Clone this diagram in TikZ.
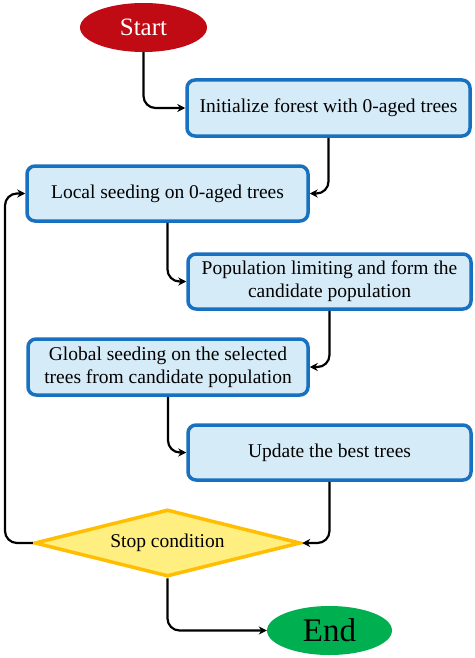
\documentclass[tikz,border=0pt]{standalone}
\usepackage{fontspec}
\setmainfont{Liberation Serif}
\usetikzlibrary{shapes.geometric,arrows.meta}
\definecolor{startred}{RGB}{192,10,20}
\definecolor{endgreen}{RGB}{0,176,80}
\definecolor{boxfill}{RGB}{214,235,248}
\definecolor{boxline}{RGB}{24,112,192}
\definecolor{diafill}{RGB}{255,238,128}
\definecolor{dialine}{RGB}{255,190,0}
\tikzset{
  procbox/.style={draw=boxline, fill=boxfill, line width=3.5pt, rounded corners=8pt,
    inner sep=0pt, align=center, font=\fontsize{19.5}{23}\selectfont},
  decision/.style={diamond, draw=dialine, fill=diafill, line width=3.5pt, inner sep=0pt,
    aspect=3.8, minimum width=266pt, minimum height=67pt, font=\fontsize{19.5}{23}\selectfont},
  terminal/.style={ellipse, inner sep=0pt},
  conn/.style={draw=black, line width=2.2pt, rounded corners=12pt, -{Stealth[length=8pt,width=8pt]}}
}
\begin{document}
\begin{tikzpicture}[x=1pt,y=-1pt]
\useasboundingbox (0,0) rectangle (474,658);
\node[terminal, fill=startred, minimum width=127pt, minimum height=49pt, text=white,
  font=\fontsize{25}{28}\selectfont] (start) at (143.5,27.5) {Start};
\node[procbox, minimum width=283pt, minimum height=56pt] (b1) at (328.5,108) {Initialize forest with 0-aged trees};
\node[procbox, minimum width=281pt, minimum height=55pt] (b2) at (167.5,193.5) {Local seeding on 0-aged trees};
\node[procbox, minimum width=283pt, minimum height=55pt] (b3) at (329.5,281.5) {Population limiting and form the\\candidate population};
\node[procbox, minimum width=280pt, minimum height=56pt] (b4) at (168,367) {Global seeding on the selected\\trees from candidate population};
\node[procbox, minimum width=283pt, minimum height=55pt] (b5) at (329.5,452.5) {Update the best trees};
\node[decision] (dia) at (167.5,543) {Stop condition};
\node[terminal, fill=endgreen, minimum width=125pt, minimum height=49pt,
  font=\fontsize{33}{36}\selectfont] (end) at (329.5,630.5) {End};
\coordinate (lp) at (5,543);
\draw[conn] (start.south) |- (b1.west);
\draw[conn] (b1.south) |- (b2.east);
\draw[conn] (b2.south) |- (b3.west);
\draw[conn] (b3.south) |- (b4.east);
\draw[conn] (b4.south) |- (b5.west);
\draw[conn] (b5.south) |- (dia.east);
\draw[conn] (dia.west) -- (lp) |- (b2.west);
\draw[conn] (dia.south) |- (end.west);
\end{tikzpicture}
\end{document}
